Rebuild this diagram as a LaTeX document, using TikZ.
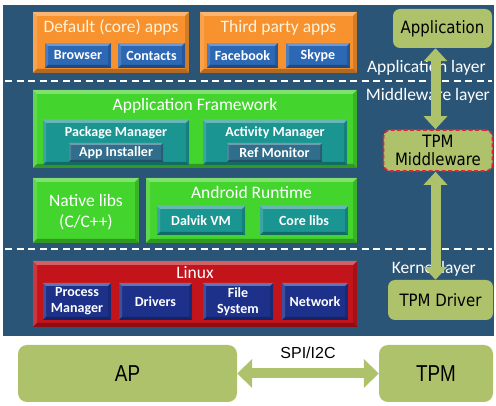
\documentclass[tikz,border=0pt]{standalone}
\usepackage{fontspec}
\setmainfont{Carlito}
\newfontfamily\tahfont[FakeStretch=0.88]{DejaVu Sans}
\newfontfamily\arifont{Liberation Sans}
\newfontfamily\arinfont[FakeStretch=0.82]{Liberation Sans}
\usetikzlibrary{arrows.meta}
\definecolor{panel}{HTML}{2A5577}
\definecolor{orC}{HTML}{F7922F}
\definecolor{btC}{HTML}{2D68B4}
\definecolor{grC}{HTML}{44D42E}
\definecolor{tlC}{HTML}{1B9591}
\definecolor{tiC}{HTML}{306E8B}
\definecolor{rdC}{HTML}{C3141C}
\definecolor{nvC}{HTML}{1D318A}
\definecolor{olive}{HTML}{AEC16B}
\definecolor{mwred}{HTML}{E5203A}
\definecolor{cream}{HTML}{FFF3DC}
\tikzset{
  bevel/.style={path picture={
    \fill[white,opacity=.32] (path picture bounding box.north west) -- (path picture bounding box.north east)
      -- ([xshift=-#1,yshift=-#1]path picture bounding box.north east) -- ([xshift=#1,yshift=-#1]path picture bounding box.north west) -- cycle;
    \fill[white,opacity=.15] (path picture bounding box.north west) -- (path picture bounding box.south west)
      -- ([xshift=#1,yshift=#1]path picture bounding box.south west) -- ([xshift=#1,yshift=-#1]path picture bounding box.north west) -- cycle;
    \fill[black,opacity=.28] (path picture bounding box.south west) -- (path picture bounding box.south east)
      -- ([xshift=-#1,yshift=#1]path picture bounding box.south east) -- ([xshift=#1,yshift=#1]path picture bounding box.south west) -- cycle;
    \fill[black,opacity=.15] (path picture bounding box.north east) -- (path picture bounding box.south east)
      -- ([xshift=-#1,yshift=#1]path picture bounding box.south east) -- ([xshift=-#1,yshift=-#1]path picture bounding box.north east) -- cycle;
  }},
  bevel/.default=4pt,
  box/.style={rectangle, inner sep=0pt, outer sep=0pt},
  orbox/.style={box, fill=orC, bevel},
  btbox/.style={box, fill=btC, bevel=3pt, text=white,
    font=\bfseries\fontsize{14}{14}\selectfont, align=center},
  grbox/.style={box, fill=grC, bevel},
  tlbox/.style={box, fill=tlC, bevel=3pt},
  tibox/.style={box, fill=tiC, bevel=2pt, text=white,
    font=\bfseries\fontsize{14}{14}\selectfont},
  rdbox/.style={box, fill=rdC, bevel},
  nvbox/.style={box, fill=nvC, bevel=3pt, text=white,
    font=\bfseries\fontsize{14}{16}\selectfont, align=center},
  ttl/.style={inner sep=0pt, text=cream, font=\fontsize{17.5}{21}\selectfont, align=center},
  subttl/.style={inner sep=0pt, text=white, font=\bfseries\fontsize{14}{14}\selectfont},
  layer/.style={inner sep=0pt, text=white, font=\fontsize{17.5}{19}\selectfont, anchor=east},
  olbox/.style={rectangle, rounded corners=7pt, fill=olive, inner sep=0pt, text=black,
    font=\tahfont\fontsize{17}{18}\selectfont, align=center},
  dashline/.style={draw=white, line width=2.6pt, dash pattern=on 7pt off 4.5pt},
  fatarrow/.style={draw=olive, line width=10pt,
    {Triangle[width=23pt,length=13pt]}-{Triangle[width=23pt,length=13pt]}},
  wideArrow/.style={draw=olive, line width=10pt,
    {Triangle[width=28pt,length=15pt]}-{Triangle[width=28pt,length=15pt]}},
}
\begin{document}
\begin{tikzpicture}[x=1pt,y=-1pt]
\useasboundingbox (0,0) rectangle (496,406);
\fill[white] (0,0) rectangle (496,406);
\fill[panel] (3,5) rectangle (494,336);

% application layer
\node[orbox, minimum width=156pt, minimum height=61pt] (defapps) at (111,42.5) {};
\node[ttl] (defapps-t) at (111,28) {Default (core) apps};
\node[btbox, minimum width=66pt, minimum height=25pt] (browser) at (78,55.5) {Browser};
\node[btbox, minimum width=67pt, minimum height=25pt] (contacts) at (151.5,55.5) {Contacts};
\node[orbox, minimum width=157pt, minimum height=61pt] (third) at (278.5,42.5) {};
\node[ttl] (third-t) at (278.5,28) {Third party apps};
\node[btbox, minimum width=71pt, minimum height=25pt] (facebook) at (242.5,55.5) {Facebook};
\node[btbox, minimum width=64pt, minimum height=25pt] (skype) at (318,55.5) {Skype};

\draw[dashline] (5,81) -- (492,81);

% middleware
\node[grbox, minimum width=324pt, minimum height=78pt] (fw) at (195,129) {};
\node[ttl, text=white] (fw-t) at (195,106) {Application Framework};
\node[tlbox, minimum width=146pt, minimum height=45pt] (pkg) at (116,142.5) {};
\node[subttl] (pkg-t) at (116,133) {Package Manager};
\node[tibox, minimum width=94pt, minimum height=19pt] (inst) at (116,152.5) {App Installer};
\node[tlbox, minimum width=144pt, minimum height=45pt] (act) at (275,142.5) {};
\node[subttl] (act-t) at (275,133) {Activity Manager};
\node[tibox, minimum width=95pt, minimum height=19pt] (ref) at (274.5,152.5) {Ref Monitor};

\node[grbox, minimum width=106pt, minimum height=65pt] (native) at (86,210.5) {};
\node[ttl, text=white] (native-t) at (86,212) {Native libs\\(C/C++)};
\node[grbox, minimum width=211pt, minimum height=65pt] (art) at (251.5,210.5) {};
\node[ttl, text=white] (art-t) at (251.5,192) {Android Runtime};
\node[tlbox, text=white, font=\bfseries\fontsize{14}{14}\selectfont, minimum width=88pt, minimum height=29pt] (dalvik) at (201,220.5) {Dalvik VM};
\node[tlbox, text=white, font=\bfseries\fontsize{14}{14}\selectfont, minimum width=88pt, minimum height=29pt] (core) at (304,220.5) {Core libs};

\draw[dashline] (5,249) -- (492,249);

% kernel
\node[rdbox, minimum width=324pt, minimum height=66pt] (linux) at (195,294) {};
\node[ttl, text=white] (linux-t) at (195,273) {Linux};
\node[nvbox, minimum width=68pt, minimum height=37pt] (proc) at (77,301.5) {Process\\Manager};
\node[nvbox, minimum width=73pt, minimum height=37pt] (drv) at (155.5,301.5) {Drivers};
\node[nvbox, minimum width=70pt, minimum height=37pt] (fs) at (238,301.5) {File\\System};
\node[nvbox, minimum width=66pt, minimum height=37pt] (net) at (315,301.5) {Network};

% layer labels
\node[layer] (l-app) at (486,68) {Application layer};
\node[layer] (l-mw) at (490,96) {Middleware layer};
\node[layer] (l-k) at (476,269) {Kernel layer};

% TPM stack
\node[olbox, minimum width=99pt, minimum height=39pt] (app) at (442.5,28.5) {Application};
\node[olbox, minimum width=109pt, minimum height=41pt, draw=mwred, line width=1.6pt,
  dash pattern=on 4pt off 2.5pt] (tpmmw) at (438,150.5) {TPM\\Middleware};
\node[olbox, minimum width=105pt, minimum height=40pt] (tpmdrv) at (440.5,300) {TPM Driver};
\coordinate (ax) at (435.5,0);
\draw[fatarrow] (app.south -| ax) -- (tpmmw.north -| ax);
\draw[fatarrow] (tpmmw.south -| ax) -- (tpmdrv.north -| ax);

% hardware
\node[olbox, rounded corners=9pt, minimum width=219pt, minimum height=57pt,
  font=\arinfont\fontsize{23}{25}\selectfont] (ap) at (127.5,373.5) {AP};
\node[olbox, rounded corners=9pt, minimum width=114pt, minimum height=57pt,
  font=\arinfont\fontsize{23}{25}\selectfont] (tpm) at (436,373.5) {TPM};
\draw[wideArrow] (ap.east) -- (tpm.west);
\node[inner sep=0pt, font=\arifont\fontsize{16}{18}\selectfont] (spi) at (308,353) {SPI/I2C};
\end{tikzpicture}
\end{document}
